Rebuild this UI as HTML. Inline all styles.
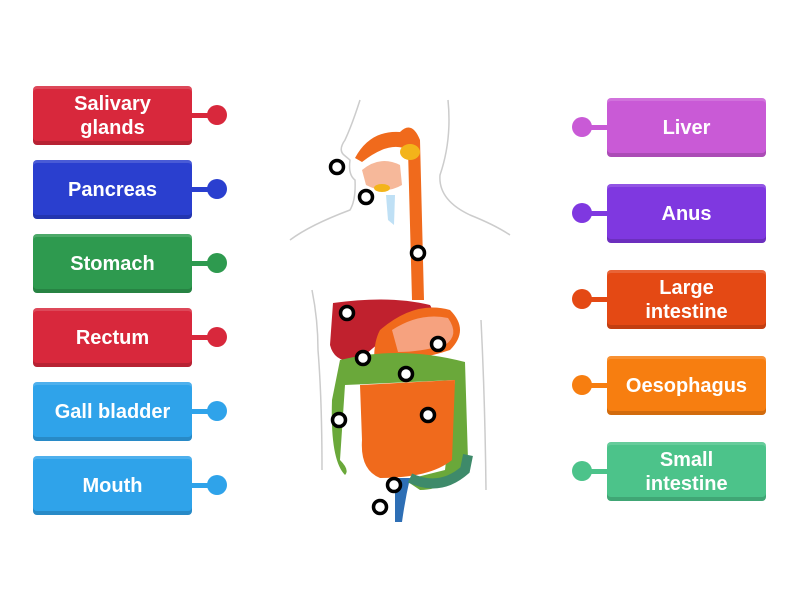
<!DOCTYPE html>
<html><head><meta charset="utf-8"><style>
body{margin:0;width:800px;height:600px;background:#fff;position:relative;overflow:hidden;font-family:"Liberation Sans",sans-serif}
.b{position:absolute;width:159px;height:59px;border-radius:4px;color:#fff;font-weight:bold;font-size:20px;line-height:24px;display:flex;align-items:center;justify-content:center;text-align:center;box-shadow:inset 0 -4px 0 rgba(0,0,0,.15),inset 0 3px 0 rgba(255,255,255,.15)}
.l{left:33px}.r{left:607px}
.s{position:absolute;height:5px}
.d{position:absolute;width:20px;height:20px;border-radius:50%}
</style></head><body>
<svg width="800" height="600" style="position:absolute;left:0;top:0">
<g fill="none" stroke="#ccc" stroke-width="1.5">
<path d="M360 100 Q352 125 345 140 Q338 150 344 155 L350 160 Q348 175 355 180 Q356 200 350 210 Q310 225 290 240"/>
<path d="M448 100 Q452 140 440 175 Q438 200 470 215 Q495 225 510 235"/>
<path d="M312 290 Q318 320 318 350 Q322 400 322 470"/>
<path d="M481 320 Q485 400 486 490"/>
</g>
<path d="M355 158 Q370 130 400 132 Q412 120 420 140 L424 300 L412 300 L408 150 Q390 140 362 162 Z" fill="#f06a1c"/>
<path d="M362 170 Q380 155 400 165 L402 185 Q385 195 366 185 Z" fill="#f6b89a"/>
<ellipse cx="410" cy="152" rx="10" ry="8" fill="#f3b41a"/>
<ellipse cx="382" cy="188" rx="8" ry="4" fill="#f3b41a"/>
<path d="M386 195 L395 195 L394 225 L388 220 Z" fill="#bfe0f5"/>
<path d="M333 303 Q390 295 430 305 Q440 320 400 330 Q380 340 360 360 Q335 365 330 345 Z" fill="#c0212e"/>
<path d="M380 330 Q415 300 450 310 Q470 330 450 350 Q420 360 395 360 Q385 375 375 370 Q372 345 380 330 Z" fill="#f06a1c"/>
<path d="M392 330 Q420 312 448 318 Q460 335 445 345 Q420 352 398 352 Z" fill="#f6a27f"/>
<path d="M340 360 Q400 345 465 362 L468 460 Q450 490 420 490 L405 480 L445 470 L455 380 L345 385 L340 460 Q350 470 345 475 Q330 460 332 400 Z" fill="#6aa83a"/>
<path d="M360 385 L455 380 L452 460 Q430 478 380 478 Q360 470 362 440 Z" fill="#f06a1c"/>
<path d="M395 478 L410 478 Q405 500 402 522 L395 522 Z" fill="#2e6fb5"/>
<path d="M410 478 Q440 492 465 470 L468 455" stroke="#3e8a6a" stroke-width="10" fill="none"/>
<g fill="#fff" stroke="#000" stroke-width="3.5">
<circle cx="337" cy="167" r="6.5"/><circle cx="366" cy="197" r="6.5"/><circle cx="418" cy="253" r="6.5"/>
<circle cx="347" cy="313" r="6.5"/><circle cx="438" cy="344" r="6.5"/><circle cx="363" cy="358" r="6.5"/>
<circle cx="406" cy="374" r="6.5"/><circle cx="339" cy="420" r="6.5"/><circle cx="428" cy="415" r="6.5"/>
<circle cx="394" cy="485" r="6.5"/><circle cx="380" cy="507" r="6.5"/>
</g>
</svg>

<div class="b l" style="top:86px;background:#d8283c">Salivary<br>glands</div>
<div class="s" style="left:192px;top:113px;width:20px;background:#d8283c"></div><div class="d" style="left:207px;top:105px;background:#d8283c"></div>
<div class="b l" style="top:160px;background:#2a3fcf">Pancreas</div>
<div class="s" style="left:192px;top:187px;width:20px;background:#2a3fcf"></div><div class="d" style="left:207px;top:179px;background:#2a3fcf"></div>
<div class="b l" style="top:234px;background:#2e9a4f">Stomach</div>
<div class="s" style="left:192px;top:261px;width:20px;background:#2e9a4f"></div><div class="d" style="left:207px;top:253px;background:#2e9a4f"></div>
<div class="b l" style="top:308px;background:#d8283c">Rectum</div>
<div class="s" style="left:192px;top:335px;width:20px;background:#d8283c"></div><div class="d" style="left:207px;top:327px;background:#d8283c"></div>
<div class="b l" style="top:382px;background:#2fa3ea">Gall bladder</div>
<div class="s" style="left:192px;top:409px;width:20px;background:#2fa3ea"></div><div class="d" style="left:207px;top:401px;background:#2fa3ea"></div>
<div class="b l" style="top:456px;background:#2fa3ea">Mouth</div>
<div class="s" style="left:192px;top:483px;width:20px;background:#2fa3ea"></div><div class="d" style="left:207px;top:475px;background:#2fa3ea"></div>

<div class="b r" style="top:98px;background:#c95ad6">Liver</div>
<div class="s" style="left:588px;top:125px;width:20px;background:#c95ad6"></div><div class="d" style="left:572px;top:117px;background:#c95ad6"></div>
<div class="b r" style="top:184px;background:#7f38e0">Anus</div>
<div class="s" style="left:588px;top:211px;width:20px;background:#7f38e0"></div><div class="d" style="left:572px;top:203px;background:#7f38e0"></div>
<div class="b r" style="top:270px;background:#e44914">Large<br>intestine</div>
<div class="s" style="left:588px;top:297px;width:20px;background:#e44914"></div><div class="d" style="left:572px;top:289px;background:#e44914"></div>
<div class="b r" style="top:356px;background:#f77e10">Oesophagus</div>
<div class="s" style="left:588px;top:383px;width:20px;background:#f77e10"></div><div class="d" style="left:572px;top:375px;background:#f77e10"></div>
<div class="b r" style="top:442px;background:#4cc38a">Small<br>intestine</div>
<div class="s" style="left:588px;top:469px;width:20px;background:#4cc38a"></div><div class="d" style="left:572px;top:461px;background:#4cc38a"></div>
</body></html>
